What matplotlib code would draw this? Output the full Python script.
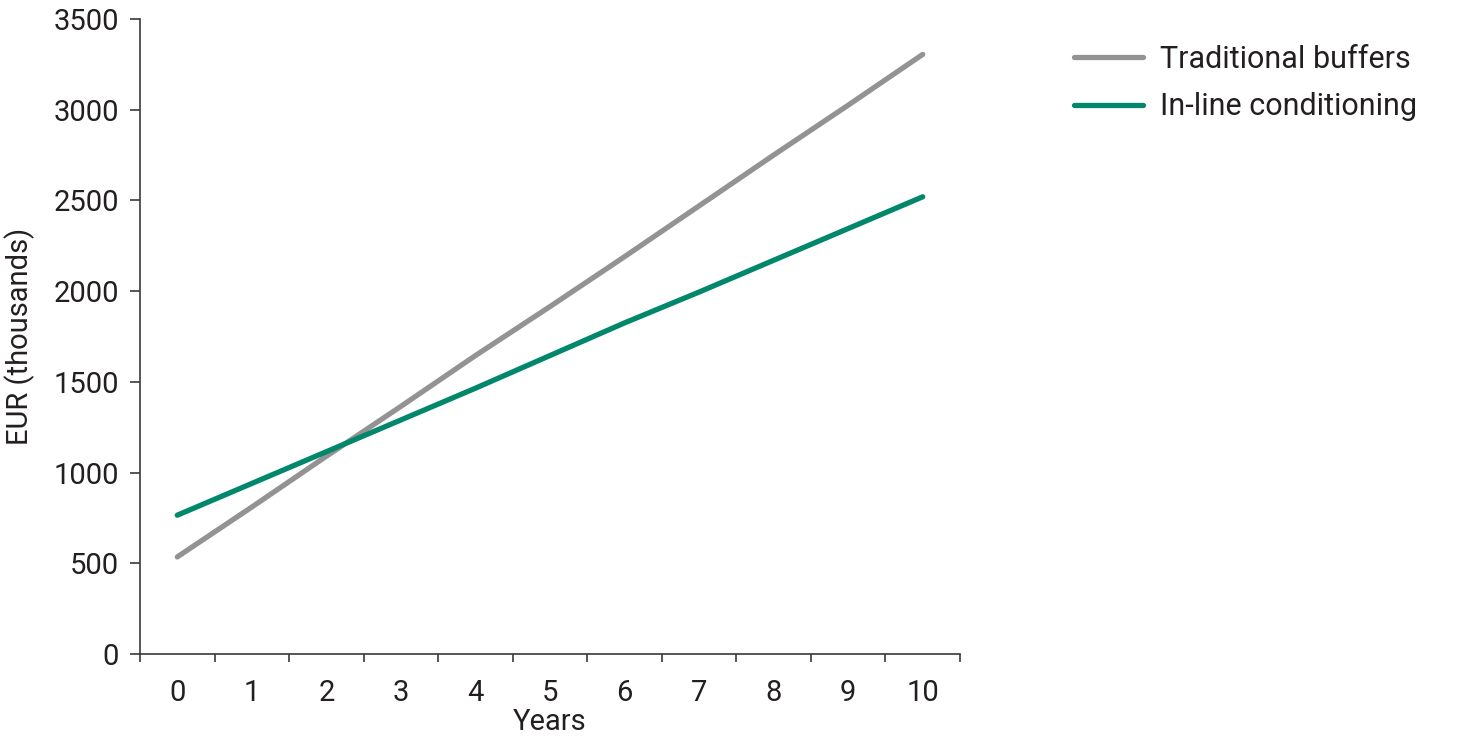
import matplotlib
matplotlib.use("Agg")
import matplotlib.pyplot as plt
import numpy as np

years = np.arange(0, 11)
year_labels = [str(y) for y in years]
traditional = [535, 810, 1090, 1365, 1645, 1915, 2190, 2470, 2750, 3025, 3305]
inline = [765, 940, 1115, 1290, 1465, 1645, 1825, 1995, 2170, 2345, 2520]
y_ticks = [0, 500, 1000, 1500, 2000, 2500, 3000, 3500]

GREY = "#939393"
GREEN = "#00876c"
TEXT = "#231f20"
AXIS = "#3a3a3a"
FS = 21

plt.rcParams["font.family"] = ["Roboto", "DejaVu Sans"]
plt.rcParams["text.color"] = TEXT

fig = plt.figure(figsize=(14.74, 7.39), dpi=100)
ax = fig.add_axes([140 / 1474, 85 / 739, 820 / 1474, 635 / 739])

ax.plot(years, traditional, color=GREY, lw=3.8, solid_capstyle="round", label="Traditional buffers")
ax.plot(years, inline, color=GREEN, lw=3.8, solid_capstyle="round", label="In-line conditioning")

ax.set_xlim(-0.5, 10.5)
ax.set_ylim(0, 3500)
ax.set_yticks(y_ticks)
ax.set_xticks(years)
ax.set_xticklabels(year_labels)
ax.set_xticks(np.arange(-0.5, 11, 1), minor=True)

for side in ("top", "right"):
    ax.spines[side].set_visible(False)
for side in ("left", "bottom"):
    ax.spines[side].set_color(AXIS)
    ax.spines[side].set_linewidth(1.2)

ax.tick_params(axis="y", which="major", length=7.2, width=1.2, color=AXIS,
               labelsize=FS, labelcolor=TEXT, pad=8)
ax.tick_params(axis="x", which="major", length=0, labelsize=FS, labelcolor=TEXT, pad=18)
ax.tick_params(axis="x", which="minor", length=6, width=1.2, color=AXIS)

ax.set_xlabel("Years", fontsize=FS, color=TEXT, labelpad=1)
ax.set_ylabel("EUR (thousands)", fontsize=FS, color=TEXT)
ax.yaxis.set_label_coords(-0.128, 0.5)

fig.legend(loc="upper left", bbox_to_anchor=(1074 / 1474, 1 - 45 / 739),
           frameon=False, fontsize=22, handlelength=2.25, handletextpad=0.55,
           labelspacing=0.6, borderpad=0, borderaxespad=0)

fig.savefig("out.png", dpi=100)
